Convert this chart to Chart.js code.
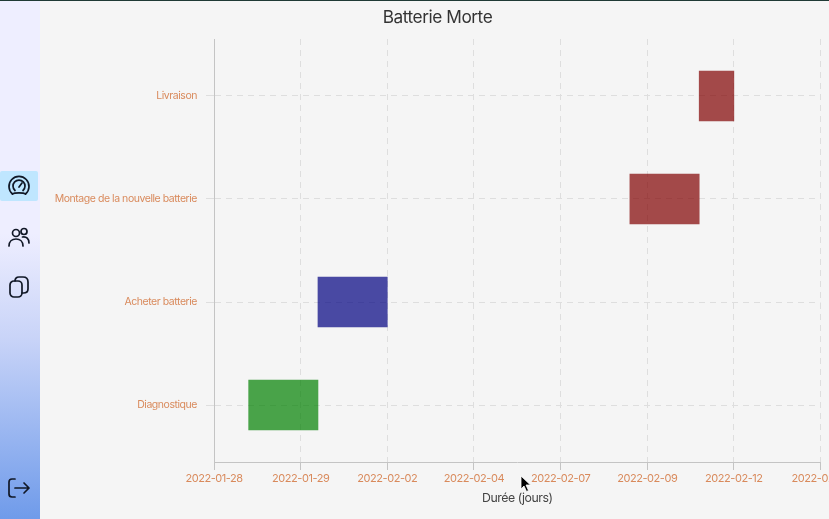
<!DOCTYPE html>
<html>
<head>
<meta charset="utf-8">
<script src="https://cdn.jsdelivr.net/npm/chart.js@4"></script>
<style>
  html, body { margin: 0; width: 829px; height: 519px; overflow: hidden; background: #f5f5f5; }
  #topline { position: absolute; left: 0; top: 0; width: 829px; height: 1px; background: #1f3a35; z-index: 3; }
  #sidebar { position: absolute; left: 0; top: 0; width: 40px; height: 519px;
    background: linear-gradient(180deg, #eeeeff 0%, #eeeeff 45%, #c9d4f8 65%, #6f9bea 100%); }
  #active { position: absolute; left: 0; top: 171px; width: 38px; height: 30px; background: #bfe6ff; border-radius: 2px; }
  .icon { position: absolute; left: 7px; width: 24px; height: 24px; fill: none; stroke: #111827; stroke-width: 1.7; stroke-linecap: round; stroke-linejoin: round; }
  #wrap { position: absolute; left: 40px; top: 0; width: 795px; height: 519px; }
  #cursor { position: absolute; left: 520px; top: 475px; z-index: 4; }
</style>
</head>
<body>
<div id="topline"></div>
<div id="sidebar">
  <div id="active"></div>
  <svg class="icon" style="top:174px" viewBox="0 0 24 24"><path d="M5.500 20a10 10 0 1 1 13 0"/><path d="M8 16.500a6 6 0 1 1 8 0"/><path d="M5.500 20c2-1.500 11-1.500 13 0"/><path d="M12 13l3-4"/></svg>
  <svg class="icon" style="top:225px" viewBox="0 0 24 24"><circle cx="9" cy="8" r="3.500"/><circle cx="17" cy="6.500" r="3"/><path d="M2 21c0-4.500 3-7 7-7s7 2.500 7 7"/><path d="M15.500 12c4-.8 6.500 2 6.500 6"/></svg>
  <svg class="icon" style="top:275px" viewBox="0 0 24 24"><rect x="3" y="6" width="12" height="16" rx="4"/><path d="M8 6c0-2.500 1.500-4 4-4h4c3 0 5 2 5 5v7c0 2.500-2 4-4.500 4H15"/></svg>
  <svg class="icon" style="top:476px" viewBox="0 0 24 24"><path d="M8 3H5c-2 0-3 1-3 3v12c0 2 1 3 3 3h3"/><path d="M8 12h14M17 7l5 5-5 5"/></svg>
</div>
<div id="wrap"><canvas id="chart" width="795" height="519" style="width:795px;height:519px"></canvas></div>
<svg id="cursor" width="12" height="18" viewBox="0 0 12 18"><path d="M1 1v13l3-3 2.500 5.500 2-1L6 10h4.500z" fill="#000" stroke="#fff" stroke-width="0.8"/></svg>
<script>
const chartTitle = 'Batterie Morte';
const axisTitle = 'Durée (jours)';
const tasks = ['Diagnostique', 'Acheter batterie', 'Montage de la nouvelle batterie', 'Livraison'];
const taskStart = [1, 3, 12, 14];   // jours depuis le 2022-01-28
const taskEnd = [3, 5, 14, 15];
const barColors = ['rgba(0,128,0,0.7)', 'rgba(0,0,128,0.7)', 'rgba(128,0,0,0.7)', 'rgba(128,0,0,0.7)'];
const dateTicks = ['2022-01-28', '2022-01-29', '2022-02-02', '2022-02-04', '2022-02-07', '2022-02-09', '2022-02-12', '2022-02-14'];

const orange = '#d98a5c';
const gridColor = '#dedede';
const axisColor = '#c4c4c4';

// le texte de la reference est plus serre que la police installee
const tightText = {
  id: 'tightText',
  beforeDraw: chart => { chart.ctx.letterSpacing = '-0.45px'; }
};

new Chart(document.getElementById('chart'), {
  type: 'bar',
  plugins: [tightText],
  data: {
    datasets: [{
      data: tasks.map((t, i) => ({ x: [taskStart[i], taskEnd[i]], y: i })),
      backgroundColor: barColors,
      borderWidth: 0,
      barThickness: 50
    }]
  },
  options: {
    indexAxis: 'y',
    responsive: false,
    animation: false,
    devicePixelRatio: 1,
    layout: { padding: 0 },
    plugins: {
      legend: { display: false },
      tooltip: { enabled: false },
      title: {
        display: true,
        text: chartTitle,
        color: '#333',
        font: { family: 'Inter', size: 17.25, weight: 'normal', lineHeight: 1.16 },
        padding: { top: 8, bottom: 11 }
      }
    },
    scales: {
      x: {
        type: 'linear',
        min: 0,
        max: 17.5,
        ticks: {
          stepSize: 2.5,
          color: orange,
          font: { family: 'Inter', size: 11 },
          maxRotation: 0,
          autoSkip: false,
          padding: 2,
          callback: (v, i) => dateTicks[i]
        },
        grid: { color: gridColor, tickColor: axisColor, tickLength: 8 },
        border: { color: axisColor, dash: [6, 5] },
        title: {
          display: true,
          text: axisTitle,
          color: '#444',
          font: { family: 'Inter', size: 12.3 },
          padding: { top: 4, bottom: 13 }
        },
        afterFit: s => { s.height = 57; s.paddingLeft = 0; s.paddingRight = 14.5; }
      },
      y: {
        type: 'linear',
        min: -0.553,
        max: 3.553,
        offset: false,
        afterBuildTicks: s => { s.ticks = tasks.map((t, i) => ({ value: i })); },
        ticks: {
          color: orange,
          font: { family: 'Inter', size: 10.5 },
          autoSkip: false,
          padding: 9,
          callback: v => tasks[v]
        },
        grid: { offset: false, color: gridColor, tickColor: gridColor, tickLength: 8 },
        border: { color: axisColor, dash: [6, 5] },
        afterFit: s => { s.width = 174; s.paddingTop = 0; s.paddingBottom = 0; }
      }
    }
  }
});
</script>
</body>
</html>
